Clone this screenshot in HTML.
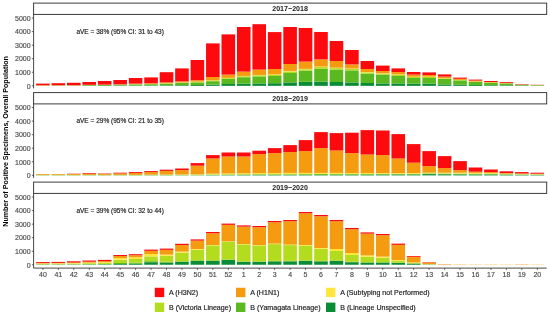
<!DOCTYPE html>
<html><head><meta charset="utf-8"><title>Positive specimens by season</title>
<style>html,body{margin:0;padding:0;background:#fff}svg{display:block}text{font-family:"Liberation Sans",Arial,sans-serif}.t{stroke:#333;stroke-width:.18px}.a{stroke:#555;stroke-width:.15px}</style></head><body>
<svg width="550" height="315" viewBox="0 0 550 315">
<rect width="550" height="315" fill="#fff"/>
<g shape-rendering="auto">
<rect x="36.1" y="85.55" width="13.6" height="0.3" fill="#5AB820"/>
<rect x="36.1" y="85.52" width="13.6" height="0.03" fill="#B4DC1E"/>
<rect x="36.1" y="85.51" width="13.6" height="0.01" fill="#FFE63C"/>
<rect x="36.1" y="85.25" width="13.6" height="0.26" fill="#F49B10"/>
<rect x="36.1" y="83.6" width="13.6" height="1.65" fill="#FD0A0E"/>
<rect x="51.55" y="85.55" width="13.6" height="0.3" fill="#5AB820"/>
<rect x="51.55" y="85.52" width="13.6" height="0.03" fill="#B4DC1E"/>
<rect x="51.55" y="85.51" width="13.6" height="0.01" fill="#FFE63C"/>
<rect x="51.55" y="85.2" width="13.6" height="0.31" fill="#F49B10"/>
<rect x="51.55" y="83.2" width="13.6" height="2" fill="#FD0A0E"/>
<rect x="67" y="85.52" width="13.6" height="0.33" fill="#5AB820"/>
<rect x="67" y="85.48" width="13.6" height="0.04" fill="#B4DC1E"/>
<rect x="67" y="85.46" width="13.6" height="0.01" fill="#FFE63C"/>
<rect x="67" y="85.15" width="13.6" height="0.31" fill="#F49B10"/>
<rect x="67" y="82.8" width="13.6" height="2.35" fill="#FD0A0E"/>
<rect x="82.45" y="85.1" width="13.6" height="0.75" fill="#5AB820"/>
<rect x="82.45" y="85.04" width="13.6" height="0.06" fill="#B4DC1E"/>
<rect x="82.45" y="85.02" width="13.6" height="0.02" fill="#FFE63C"/>
<rect x="82.45" y="84.8" width="13.6" height="0.22" fill="#F49B10"/>
<rect x="82.45" y="82" width="13.6" height="2.8" fill="#FD0A0E"/>
<rect x="97.9" y="85" width="13.6" height="0.85" fill="#5AB820"/>
<rect x="97.9" y="84.91" width="13.6" height="0.09" fill="#B4DC1E"/>
<rect x="97.9" y="84.88" width="13.6" height="0.03" fill="#FFE63C"/>
<rect x="97.9" y="84.6" width="13.6" height="0.28" fill="#F49B10"/>
<rect x="97.9" y="81" width="13.6" height="3.6" fill="#FD0A0E"/>
<rect x="113.35" y="85.5" width="13.6" height="0.35" fill="#0A8C36"/>
<rect x="113.35" y="84.8" width="13.6" height="0.7" fill="#5AB820"/>
<rect x="113.35" y="84.68" width="13.6" height="0.12" fill="#B4DC1E"/>
<rect x="113.35" y="84.64" width="13.6" height="0.04" fill="#FFE63C"/>
<rect x="113.35" y="84.3" width="13.6" height="0.34" fill="#F49B10"/>
<rect x="113.35" y="80" width="13.6" height="4.3" fill="#FD0A0E"/>
<rect x="128.8" y="85.4" width="13.6" height="0.45" fill="#0A8C36"/>
<rect x="128.8" y="84.4" width="13.6" height="1" fill="#5AB820"/>
<rect x="128.8" y="84.15" width="13.6" height="0.25" fill="#B4DC1E"/>
<rect x="128.8" y="84.08" width="13.6" height="0.07" fill="#FFE63C"/>
<rect x="128.8" y="83.6" width="13.6" height="0.48" fill="#F49B10"/>
<rect x="128.8" y="78" width="13.6" height="5.6" fill="#FD0A0E"/>
<rect x="144.25" y="85.4" width="13.6" height="0.45" fill="#0A8C36"/>
<rect x="144.25" y="84.2" width="13.6" height="1.2" fill="#5AB820"/>
<rect x="144.25" y="83.95" width="13.6" height="0.25" fill="#B4DC1E"/>
<rect x="144.25" y="83.88" width="13.6" height="0.07" fill="#FFE63C"/>
<rect x="144.25" y="83.3" width="13.6" height="0.58" fill="#F49B10"/>
<rect x="144.25" y="77.4" width="13.6" height="5.9" fill="#FD0A0E"/>
<rect x="159.7" y="85.3" width="13.6" height="0.55" fill="#0A8C36"/>
<rect x="159.7" y="83.6" width="13.6" height="1.7" fill="#5AB820"/>
<rect x="159.7" y="83.23" width="13.6" height="0.37" fill="#B4DC1E"/>
<rect x="159.7" y="83.12" width="13.6" height="0.11" fill="#FFE63C"/>
<rect x="159.7" y="82.4" width="13.6" height="0.72" fill="#F49B10"/>
<rect x="159.7" y="72.2" width="13.6" height="10.2" fill="#FD0A0E"/>
<rect x="175.15" y="85.2" width="13.6" height="0.65" fill="#0A8C36"/>
<rect x="175.15" y="83" width="13.6" height="2.2" fill="#5AB820"/>
<rect x="175.15" y="82.57" width="13.6" height="0.43" fill="#B4DC1E"/>
<rect x="175.15" y="82.44" width="13.6" height="0.13" fill="#FFE63C"/>
<rect x="175.15" y="81.4" width="13.6" height="1.04" fill="#F49B10"/>
<rect x="175.15" y="68.4" width="13.6" height="13" fill="#FD0A0E"/>
<rect x="190.6" y="85" width="13.6" height="0.85" fill="#0A8C36"/>
<rect x="190.6" y="82.4" width="13.6" height="2.6" fill="#5AB820"/>
<rect x="190.6" y="81.84" width="13.6" height="0.56" fill="#B4DC1E"/>
<rect x="190.6" y="81.68" width="13.6" height="0.16" fill="#FFE63C"/>
<rect x="190.6" y="80.2" width="13.6" height="1.48" fill="#F49B10"/>
<rect x="190.6" y="60" width="13.6" height="20.2" fill="#FD0A0E"/>
<rect x="206.05" y="84.6" width="13.6" height="1.25" fill="#0A8C36"/>
<rect x="206.05" y="81.2" width="13.6" height="3.4" fill="#5AB820"/>
<rect x="206.05" y="80.46" width="13.6" height="0.74" fill="#B4DC1E"/>
<rect x="206.05" y="80.24" width="13.6" height="0.22" fill="#FFE63C"/>
<rect x="206.05" y="77" width="13.6" height="3.24" fill="#F49B10"/>
<rect x="206.05" y="43.4" width="13.6" height="33.6" fill="#FD0A0E"/>
<rect x="221.5" y="84" width="13.6" height="1.85" fill="#0A8C36"/>
<rect x="221.5" y="79" width="13.6" height="5" fill="#5AB820"/>
<rect x="221.5" y="78.13" width="13.6" height="0.87" fill="#B4DC1E"/>
<rect x="221.5" y="77.88" width="13.6" height="0.25" fill="#FFE63C"/>
<rect x="221.5" y="74.6" width="13.6" height="3.28" fill="#F49B10"/>
<rect x="221.5" y="34.4" width="13.6" height="40.2" fill="#FD0A0E"/>
<rect x="236.95" y="83.6" width="13.6" height="2.25" fill="#0A8C36"/>
<rect x="236.95" y="77.2" width="13.6" height="6.4" fill="#5AB820"/>
<rect x="236.95" y="76.21" width="13.6" height="0.99" fill="#B4DC1E"/>
<rect x="236.95" y="75.92" width="13.6" height="0.29" fill="#FFE63C"/>
<rect x="236.95" y="71.6" width="13.6" height="4.32" fill="#F49B10"/>
<rect x="236.95" y="27" width="13.6" height="44.6" fill="#FD0A0E"/>
<rect x="252.4" y="83.4" width="13.6" height="2.45" fill="#0A8C36"/>
<rect x="252.4" y="76.4" width="13.6" height="7" fill="#5AB820"/>
<rect x="252.4" y="75.28" width="13.6" height="1.12" fill="#B4DC1E"/>
<rect x="252.4" y="74.96" width="13.6" height="0.32" fill="#FFE63C"/>
<rect x="252.4" y="69.6" width="13.6" height="5.36" fill="#F49B10"/>
<rect x="252.4" y="24.2" width="13.6" height="45.4" fill="#FD0A0E"/>
<rect x="267.85" y="83.2" width="13.6" height="2.65" fill="#0A8C36"/>
<rect x="267.85" y="76" width="13.6" height="7.2" fill="#5AB820"/>
<rect x="267.85" y="74.76" width="13.6" height="1.24" fill="#B4DC1E"/>
<rect x="267.85" y="74.4" width="13.6" height="0.36" fill="#FFE63C"/>
<rect x="267.85" y="69" width="13.6" height="5.4" fill="#F49B10"/>
<rect x="267.85" y="32.1" width="13.6" height="36.9" fill="#FD0A0E"/>
<rect x="283.3" y="82.4" width="13.6" height="3.45" fill="#0A8C36"/>
<rect x="283.3" y="73" width="13.6" height="9.4" fill="#5AB820"/>
<rect x="283.3" y="71.39" width="13.6" height="1.61" fill="#B4DC1E"/>
<rect x="283.3" y="70.92" width="13.6" height="0.47" fill="#FFE63C"/>
<rect x="283.3" y="64" width="13.6" height="6.92" fill="#F49B10"/>
<rect x="283.3" y="27" width="13.6" height="37" fill="#FD0A0E"/>
<rect x="298.75" y="81.8" width="13.6" height="4.05" fill="#0A8C36"/>
<rect x="298.75" y="70.6" width="13.6" height="11.2" fill="#5AB820"/>
<rect x="298.75" y="69.24" width="13.6" height="1.36" fill="#B4DC1E"/>
<rect x="298.75" y="68.84" width="13.6" height="0.4" fill="#FFE63C"/>
<rect x="298.75" y="61.6" width="13.6" height="7.24" fill="#F49B10"/>
<rect x="298.75" y="28" width="13.6" height="33.6" fill="#FD0A0E"/>
<rect x="314.2" y="81.6" width="13.6" height="4.25" fill="#0A8C36"/>
<rect x="314.2" y="68.8" width="13.6" height="12.8" fill="#5AB820"/>
<rect x="314.2" y="67.06" width="13.6" height="1.74" fill="#B4DC1E"/>
<rect x="314.2" y="66.56" width="13.6" height="0.5" fill="#FFE63C"/>
<rect x="314.2" y="59.4" width="13.6" height="7.16" fill="#F49B10"/>
<rect x="314.2" y="32" width="13.6" height="27.4" fill="#FD0A0E"/>
<rect x="329.65" y="82" width="13.6" height="3.85" fill="#0A8C36"/>
<rect x="329.65" y="69.6" width="13.6" height="12.4" fill="#5AB820"/>
<rect x="329.65" y="68.11" width="13.6" height="1.49" fill="#B4DC1E"/>
<rect x="329.65" y="67.68" width="13.6" height="0.43" fill="#FFE63C"/>
<rect x="329.65" y="61" width="13.6" height="6.68" fill="#F49B10"/>
<rect x="329.65" y="41" width="13.6" height="20" fill="#FD0A0E"/>
<rect x="345.1" y="82.4" width="13.6" height="3.45" fill="#0A8C36"/>
<rect x="345.1" y="70.4" width="13.6" height="12" fill="#5AB820"/>
<rect x="345.1" y="68.91" width="13.6" height="1.49" fill="#B4DC1E"/>
<rect x="345.1" y="68.48" width="13.6" height="0.43" fill="#FFE63C"/>
<rect x="345.1" y="64.4" width="13.6" height="4.08" fill="#F49B10"/>
<rect x="345.1" y="50" width="13.6" height="14.4" fill="#FD0A0E"/>
<rect x="360.55" y="83" width="13.6" height="2.85" fill="#0A8C36"/>
<rect x="360.55" y="73.6" width="13.6" height="9.4" fill="#5AB820"/>
<rect x="360.55" y="72.36" width="13.6" height="1.24" fill="#B4DC1E"/>
<rect x="360.55" y="72" width="13.6" height="0.36" fill="#FFE63C"/>
<rect x="360.55" y="69" width="13.6" height="3" fill="#F49B10"/>
<rect x="360.55" y="61" width="13.6" height="8" fill="#FD0A0E"/>
<rect x="376" y="83.4" width="13.6" height="2.45" fill="#0A8C36"/>
<rect x="376" y="74.6" width="13.6" height="8.8" fill="#5AB820"/>
<rect x="376" y="73.61" width="13.6" height="0.99" fill="#B4DC1E"/>
<rect x="376" y="73.32" width="13.6" height="0.29" fill="#FFE63C"/>
<rect x="376" y="71" width="13.6" height="2.32" fill="#F49B10"/>
<rect x="376" y="65.6" width="13.6" height="5.4" fill="#FD0A0E"/>
<rect x="391.45" y="83.4" width="13.6" height="2.45" fill="#0A8C36"/>
<rect x="391.45" y="76" width="13.6" height="7.4" fill="#5AB820"/>
<rect x="391.45" y="74.76" width="13.6" height="1.24" fill="#B4DC1E"/>
<rect x="391.45" y="74.4" width="13.6" height="0.36" fill="#FFE63C"/>
<rect x="391.45" y="72" width="13.6" height="2.4" fill="#F49B10"/>
<rect x="391.45" y="68.4" width="13.6" height="3.6" fill="#FD0A0E"/>
<rect x="406.9" y="83.6" width="13.6" height="2.25" fill="#0A8C36"/>
<rect x="406.9" y="78" width="13.6" height="5.6" fill="#5AB820"/>
<rect x="406.9" y="77.01" width="13.6" height="0.99" fill="#B4DC1E"/>
<rect x="406.9" y="76.72" width="13.6" height="0.29" fill="#FFE63C"/>
<rect x="406.9" y="74.6" width="13.6" height="2.12" fill="#F49B10"/>
<rect x="406.9" y="72" width="13.6" height="2.6" fill="#FD0A0E"/>
<rect x="422.35" y="83.6" width="13.6" height="2.25" fill="#0A8C36"/>
<rect x="422.35" y="78" width="13.6" height="5.6" fill="#5AB820"/>
<rect x="422.35" y="77.01" width="13.6" height="0.99" fill="#B4DC1E"/>
<rect x="422.35" y="76.72" width="13.6" height="0.29" fill="#FFE63C"/>
<rect x="422.35" y="75" width="13.6" height="1.72" fill="#F49B10"/>
<rect x="422.35" y="72.4" width="13.6" height="2.6" fill="#FD0A0E"/>
<rect x="437.8" y="84.4" width="13.6" height="1.45" fill="#0A8C36"/>
<rect x="437.8" y="79" width="13.6" height="5.4" fill="#5AB820"/>
<rect x="437.8" y="78.38" width="13.6" height="0.62" fill="#B4DC1E"/>
<rect x="437.8" y="78.2" width="13.6" height="0.18" fill="#FFE63C"/>
<rect x="437.8" y="76.6" width="13.6" height="1.6" fill="#F49B10"/>
<rect x="437.8" y="74.4" width="13.6" height="2.2" fill="#FD0A0E"/>
<rect x="453.25" y="84.8" width="13.6" height="1.05" fill="#0A8C36"/>
<rect x="453.25" y="80.4" width="13.6" height="4.4" fill="#5AB820"/>
<rect x="453.25" y="80.03" width="13.6" height="0.37" fill="#B4DC1E"/>
<rect x="453.25" y="79.92" width="13.6" height="0.11" fill="#FFE63C"/>
<rect x="453.25" y="78.8" width="13.6" height="1.12" fill="#F49B10"/>
<rect x="453.25" y="77.6" width="13.6" height="1.2" fill="#FD0A0E"/>
<rect x="468.7" y="85" width="13.6" height="0.85" fill="#0A8C36"/>
<rect x="468.7" y="81.8" width="13.6" height="3.2" fill="#5AB820"/>
<rect x="468.7" y="81.55" width="13.6" height="0.25" fill="#B4DC1E"/>
<rect x="468.7" y="81.48" width="13.6" height="0.07" fill="#FFE63C"/>
<rect x="468.7" y="80.6" width="13.6" height="0.88" fill="#F49B10"/>
<rect x="468.7" y="79.6" width="13.6" height="1" fill="#FD0A0E"/>
<rect x="484.15" y="85.2" width="13.6" height="0.65" fill="#0A8C36"/>
<rect x="484.15" y="82.8" width="13.6" height="2.4" fill="#5AB820"/>
<rect x="484.15" y="82.55" width="13.6" height="0.25" fill="#B4DC1E"/>
<rect x="484.15" y="82.48" width="13.6" height="0.07" fill="#FFE63C"/>
<rect x="484.15" y="82" width="13.6" height="0.48" fill="#F49B10"/>
<rect x="484.15" y="81" width="13.6" height="1" fill="#FD0A0E"/>
<rect x="499.6" y="85.3" width="13.6" height="0.55" fill="#0A8C36"/>
<rect x="499.6" y="83.5" width="13.6" height="1.8" fill="#5AB820"/>
<rect x="499.6" y="83.31" width="13.6" height="0.19" fill="#B4DC1E"/>
<rect x="499.6" y="83.26" width="13.6" height="0.05" fill="#FFE63C"/>
<rect x="499.6" y="82.8" width="13.6" height="0.46" fill="#F49B10"/>
<rect x="499.6" y="82" width="13.6" height="0.8" fill="#FD0A0E"/>
<rect x="515.05" y="85.5" width="13.6" height="0.35" fill="#0A8C36"/>
<rect x="515.05" y="84.8" width="13.6" height="0.7" fill="#5AB820"/>
<rect x="515.05" y="84.68" width="13.6" height="0.12" fill="#B4DC1E"/>
<rect x="515.05" y="84.64" width="13.6" height="0.04" fill="#FFE63C"/>
<rect x="515.05" y="84.4" width="13.6" height="0.24" fill="#F49B10"/>
<rect x="515.05" y="84" width="13.6" height="0.4" fill="#FD0A0E"/>
<rect x="530.5" y="85.2" width="13.6" height="0.65" fill="#5AB820"/>
<rect x="530.5" y="85.14" width="13.6" height="0.06" fill="#B4DC1E"/>
<rect x="530.5" y="85.12" width="13.6" height="0.02" fill="#FFE63C"/>
<rect x="530.5" y="85" width="13.6" height="0.12" fill="#F49B10"/>
<rect x="530.5" y="84.8" width="13.6" height="0.2" fill="#FD0A0E"/>
</g>
<rect x="33.6" y="3.1" width="513.1" height="11.3" fill="#fff" stroke="#333" stroke-width="0.95"/>
<text x="290.1" y="11.1" font-size="7.1" font-weight="bold" fill="#1a1a1a" text-anchor="middle">2017−2018</text>
<line x1="33.6" y1="14.4" x2="33.6" y2="88.4" stroke="#333" stroke-width="0.9"/>
<line x1="31.9" y1="85.8" x2="33.6" y2="85.8" stroke="#333" stroke-width="0.75"/>
<text class="a" x="30.6" y="88.55" font-size="7" fill="#444" text-anchor="end">0</text>
<line x1="31.9" y1="72.25" x2="33.6" y2="72.25" stroke="#333" stroke-width="0.75"/>
<text class="a" x="30.6" y="75" font-size="7" fill="#444" text-anchor="end">1000</text>
<line x1="31.9" y1="58.7" x2="33.6" y2="58.7" stroke="#333" stroke-width="0.75"/>
<text class="a" x="30.6" y="61.45" font-size="7" fill="#444" text-anchor="end">2000</text>
<line x1="31.9" y1="45.15" x2="33.6" y2="45.15" stroke="#333" stroke-width="0.75"/>
<text class="a" x="30.6" y="47.9" font-size="7" fill="#444" text-anchor="end">3000</text>
<line x1="31.9" y1="31.6" x2="33.6" y2="31.6" stroke="#333" stroke-width="0.75"/>
<text class="a" x="30.6" y="34.35" font-size="7" fill="#444" text-anchor="end">4000</text>
<line x1="31.9" y1="18.05" x2="33.6" y2="18.05" stroke="#333" stroke-width="0.75"/>
<text class="a" x="30.6" y="20.8" font-size="7" fill="#444" text-anchor="end">5000</text>
<text class="t" x="76.4" y="33.9" font-size="6.52" fill="#111">aVE = 38% (95% CI: 31 to 43)</text>
<g shape-rendering="auto">
<rect x="36.1" y="175.07" width="13.6" height="0.33" fill="#5AB820"/>
<rect x="36.1" y="174.92" width="13.6" height="0.15" fill="#B4DC1E"/>
<rect x="36.1" y="174.15" width="13.6" height="0.77" fill="#F49B10"/>
<rect x="36.1" y="174.1" width="13.6" height="0.05" fill="#FD0A0E"/>
<rect x="51.55" y="175.07" width="13.6" height="0.33" fill="#5AB820"/>
<rect x="51.55" y="174.92" width="13.6" height="0.15" fill="#B4DC1E"/>
<rect x="51.55" y="174.15" width="13.6" height="0.77" fill="#F49B10"/>
<rect x="51.55" y="174.1" width="13.6" height="0.05" fill="#FD0A0E"/>
<rect x="67" y="175.07" width="13.6" height="0.33" fill="#5AB820"/>
<rect x="67" y="174.92" width="13.6" height="0.15" fill="#B4DC1E"/>
<rect x="67" y="174" width="13.6" height="0.92" fill="#F49B10"/>
<rect x="67" y="173.7" width="13.6" height="0.3" fill="#FD0A0E"/>
<rect x="82.45" y="175.06" width="13.6" height="0.34" fill="#5AB820"/>
<rect x="82.45" y="174.91" width="13.6" height="0.15" fill="#B4DC1E"/>
<rect x="82.45" y="173.8" width="13.6" height="1.11" fill="#F49B10"/>
<rect x="82.45" y="173.1" width="13.6" height="0.7" fill="#FD0A0E"/>
<rect x="97.9" y="175.06" width="13.6" height="0.34" fill="#5AB820"/>
<rect x="97.9" y="174.91" width="13.6" height="0.15" fill="#B4DC1E"/>
<rect x="97.9" y="173.9" width="13.6" height="1.01" fill="#F49B10"/>
<rect x="97.9" y="173.5" width="13.6" height="0.4" fill="#FD0A0E"/>
<rect x="113.35" y="175.05" width="13.6" height="0.35" fill="#5AB820"/>
<rect x="113.35" y="174.9" width="13.6" height="0.15" fill="#B4DC1E"/>
<rect x="113.35" y="173.4" width="13.6" height="1.5" fill="#F49B10"/>
<rect x="113.35" y="172.7" width="13.6" height="0.7" fill="#FD0A0E"/>
<rect x="128.8" y="175.05" width="13.6" height="0.35" fill="#5AB820"/>
<rect x="128.8" y="174.9" width="13.6" height="0.15" fill="#B4DC1E"/>
<rect x="128.8" y="173" width="13.6" height="1.9" fill="#F49B10"/>
<rect x="128.8" y="172.1" width="13.6" height="0.9" fill="#FD0A0E"/>
<rect x="144.25" y="175" width="13.6" height="0.4" fill="#5AB820"/>
<rect x="144.25" y="174.85" width="13.6" height="0.15" fill="#B4DC1E"/>
<rect x="144.25" y="174.7" width="13.6" height="0.15" fill="#FFE63C"/>
<rect x="144.25" y="172.1" width="13.6" height="2.6" fill="#F49B10"/>
<rect x="144.25" y="171.1" width="13.6" height="1" fill="#FD0A0E"/>
<rect x="159.7" y="174.95" width="13.6" height="0.45" fill="#5AB820"/>
<rect x="159.7" y="174.8" width="13.6" height="0.15" fill="#B4DC1E"/>
<rect x="159.7" y="174.6" width="13.6" height="0.2" fill="#FFE63C"/>
<rect x="159.7" y="170.9" width="13.6" height="3.7" fill="#F49B10"/>
<rect x="159.7" y="169.7" width="13.6" height="1.2" fill="#FD0A0E"/>
<rect x="175.15" y="174.9" width="13.6" height="0.5" fill="#5AB820"/>
<rect x="175.15" y="174.75" width="13.6" height="0.15" fill="#B4DC1E"/>
<rect x="175.15" y="174.5" width="13.6" height="0.25" fill="#FFE63C"/>
<rect x="175.15" y="170.1" width="13.6" height="4.4" fill="#F49B10"/>
<rect x="175.15" y="168.5" width="13.6" height="1.6" fill="#FD0A0E"/>
<rect x="190.6" y="174.8" width="13.6" height="0.6" fill="#5AB820"/>
<rect x="190.6" y="174.65" width="13.6" height="0.15" fill="#B4DC1E"/>
<rect x="190.6" y="174.3" width="13.6" height="0.35" fill="#FFE63C"/>
<rect x="190.6" y="165.7" width="13.6" height="8.6" fill="#F49B10"/>
<rect x="190.6" y="163.1" width="13.6" height="2.6" fill="#FD0A0E"/>
<rect x="206.05" y="175.05" width="13.6" height="0.35" fill="#0A8C36"/>
<rect x="206.05" y="174.6" width="13.6" height="0.45" fill="#5AB820"/>
<rect x="206.05" y="174.45" width="13.6" height="0.15" fill="#B4DC1E"/>
<rect x="206.05" y="173.7" width="13.6" height="0.75" fill="#FFE63C"/>
<rect x="206.05" y="158.5" width="13.6" height="15.2" fill="#F49B10"/>
<rect x="206.05" y="155.1" width="13.6" height="3.4" fill="#FD0A0E"/>
<rect x="221.5" y="175.05" width="13.6" height="0.35" fill="#0A8C36"/>
<rect x="221.5" y="174.5" width="13.6" height="0.55" fill="#5AB820"/>
<rect x="221.5" y="174.35" width="13.6" height="0.15" fill="#B4DC1E"/>
<rect x="221.5" y="173.5" width="13.6" height="0.85" fill="#FFE63C"/>
<rect x="221.5" y="156.5" width="13.6" height="17" fill="#F49B10"/>
<rect x="221.5" y="152.5" width="13.6" height="4" fill="#FD0A0E"/>
<rect x="236.95" y="175" width="13.6" height="0.4" fill="#0A8C36"/>
<rect x="236.95" y="174.4" width="13.6" height="0.6" fill="#5AB820"/>
<rect x="236.95" y="174.25" width="13.6" height="0.15" fill="#B4DC1E"/>
<rect x="236.95" y="173.3" width="13.6" height="0.95" fill="#FFE63C"/>
<rect x="236.95" y="156.5" width="13.6" height="16.8" fill="#F49B10"/>
<rect x="236.95" y="152.5" width="13.6" height="4" fill="#FD0A0E"/>
<rect x="252.4" y="175" width="13.6" height="0.4" fill="#0A8C36"/>
<rect x="252.4" y="174.3" width="13.6" height="0.7" fill="#5AB820"/>
<rect x="252.4" y="174.15" width="13.6" height="0.15" fill="#B4DC1E"/>
<rect x="252.4" y="173.1" width="13.6" height="1.05" fill="#FFE63C"/>
<rect x="252.4" y="154.1" width="13.6" height="19" fill="#F49B10"/>
<rect x="252.4" y="150.7" width="13.6" height="3.4" fill="#FD0A0E"/>
<rect x="267.85" y="175" width="13.6" height="0.4" fill="#0A8C36"/>
<rect x="267.85" y="174.3" width="13.6" height="0.7" fill="#5AB820"/>
<rect x="267.85" y="174.15" width="13.6" height="0.15" fill="#B4DC1E"/>
<rect x="267.85" y="173.1" width="13.6" height="1.05" fill="#FFE63C"/>
<rect x="267.85" y="153.1" width="13.6" height="20" fill="#F49B10"/>
<rect x="267.85" y="148.1" width="13.6" height="5" fill="#FD0A0E"/>
<rect x="283.3" y="175" width="13.6" height="0.4" fill="#0A8C36"/>
<rect x="283.3" y="174.3" width="13.6" height="0.7" fill="#5AB820"/>
<rect x="283.3" y="174.15" width="13.6" height="0.15" fill="#B4DC1E"/>
<rect x="283.3" y="172.9" width="13.6" height="1.25" fill="#FFE63C"/>
<rect x="283.3" y="152.1" width="13.6" height="20.8" fill="#F49B10"/>
<rect x="283.3" y="145.1" width="13.6" height="7" fill="#FD0A0E"/>
<rect x="298.75" y="175" width="13.6" height="0.4" fill="#0A8C36"/>
<rect x="298.75" y="174.2" width="13.6" height="0.8" fill="#5AB820"/>
<rect x="298.75" y="174.05" width="13.6" height="0.15" fill="#B4DC1E"/>
<rect x="298.75" y="172.9" width="13.6" height="1.15" fill="#FFE63C"/>
<rect x="298.75" y="151.1" width="13.6" height="21.8" fill="#F49B10"/>
<rect x="298.75" y="140.1" width="13.6" height="11" fill="#FD0A0E"/>
<rect x="314.2" y="175" width="13.6" height="0.4" fill="#0A8C36"/>
<rect x="314.2" y="174.1" width="13.6" height="0.9" fill="#5AB820"/>
<rect x="314.2" y="173.95" width="13.6" height="0.15" fill="#B4DC1E"/>
<rect x="314.2" y="172.9" width="13.6" height="1.05" fill="#FFE63C"/>
<rect x="314.2" y="148.1" width="13.6" height="24.8" fill="#F49B10"/>
<rect x="314.2" y="132.1" width="13.6" height="16" fill="#FD0A0E"/>
<rect x="329.65" y="174.9" width="13.6" height="0.5" fill="#0A8C36"/>
<rect x="329.65" y="174.1" width="13.6" height="0.8" fill="#5AB820"/>
<rect x="329.65" y="173.95" width="13.6" height="0.15" fill="#B4DC1E"/>
<rect x="329.65" y="172.9" width="13.6" height="1.05" fill="#FFE63C"/>
<rect x="329.65" y="150.5" width="13.6" height="22.4" fill="#F49B10"/>
<rect x="329.65" y="133.1" width="13.6" height="17.4" fill="#FD0A0E"/>
<rect x="345.1" y="174.9" width="13.6" height="0.5" fill="#0A8C36"/>
<rect x="345.1" y="174.1" width="13.6" height="0.8" fill="#5AB820"/>
<rect x="345.1" y="173.95" width="13.6" height="0.15" fill="#B4DC1E"/>
<rect x="345.1" y="173.1" width="13.6" height="0.85" fill="#FFE63C"/>
<rect x="345.1" y="153.1" width="13.6" height="20" fill="#F49B10"/>
<rect x="345.1" y="132.7" width="13.6" height="20.4" fill="#FD0A0E"/>
<rect x="360.55" y="174.9" width="13.6" height="0.5" fill="#0A8C36"/>
<rect x="360.55" y="174.1" width="13.6" height="0.8" fill="#5AB820"/>
<rect x="360.55" y="173.95" width="13.6" height="0.15" fill="#B4DC1E"/>
<rect x="360.55" y="173.1" width="13.6" height="0.85" fill="#FFE63C"/>
<rect x="360.55" y="154.5" width="13.6" height="18.6" fill="#F49B10"/>
<rect x="360.55" y="130.1" width="13.6" height="24.4" fill="#FD0A0E"/>
<rect x="376" y="174.65" width="13.6" height="0.75" fill="#0A8C36"/>
<rect x="376" y="174" width="13.6" height="0.65" fill="#5AB820"/>
<rect x="376" y="173.85" width="13.6" height="0.15" fill="#B4DC1E"/>
<rect x="376" y="173.1" width="13.6" height="0.75" fill="#FFE63C"/>
<rect x="376" y="155.1" width="13.6" height="18" fill="#F49B10"/>
<rect x="376" y="130.5" width="13.6" height="24.6" fill="#FD0A0E"/>
<rect x="391.45" y="174.65" width="13.6" height="0.75" fill="#0A8C36"/>
<rect x="391.45" y="174" width="13.6" height="0.65" fill="#5AB820"/>
<rect x="391.45" y="173.85" width="13.6" height="0.15" fill="#B4DC1E"/>
<rect x="391.45" y="173.1" width="13.6" height="0.75" fill="#FFE63C"/>
<rect x="391.45" y="158.5" width="13.6" height="14.6" fill="#F49B10"/>
<rect x="391.45" y="134.1" width="13.6" height="24.4" fill="#FD0A0E"/>
<rect x="406.9" y="174.55" width="13.6" height="0.85" fill="#0A8C36"/>
<rect x="406.9" y="174" width="13.6" height="0.55" fill="#5AB820"/>
<rect x="406.9" y="173.85" width="13.6" height="0.15" fill="#B4DC1E"/>
<rect x="406.9" y="173.1" width="13.6" height="0.75" fill="#FFE63C"/>
<rect x="406.9" y="162.7" width="13.6" height="10.4" fill="#F49B10"/>
<rect x="406.9" y="144.1" width="13.6" height="18.6" fill="#FD0A0E"/>
<rect x="422.35" y="174.1" width="13.6" height="1.3" fill="#0A8C36"/>
<rect x="422.35" y="173.5" width="13.6" height="0.6" fill="#5AB820"/>
<rect x="422.35" y="173.35" width="13.6" height="0.15" fill="#B4DC1E"/>
<rect x="422.35" y="172.7" width="13.6" height="0.65" fill="#FFE63C"/>
<rect x="422.35" y="166.1" width="13.6" height="6.6" fill="#F49B10"/>
<rect x="422.35" y="151.1" width="13.6" height="15" fill="#FD0A0E"/>
<rect x="437.8" y="174.3" width="13.6" height="1.1" fill="#0A8C36"/>
<rect x="437.8" y="173.6" width="13.6" height="0.7" fill="#5AB820"/>
<rect x="437.8" y="173.45" width="13.6" height="0.15" fill="#B4DC1E"/>
<rect x="437.8" y="172.7" width="13.6" height="0.75" fill="#FFE63C"/>
<rect x="437.8" y="168.1" width="13.6" height="4.6" fill="#F49B10"/>
<rect x="437.8" y="156.1" width="13.6" height="12" fill="#FD0A0E"/>
<rect x="453.25" y="174.4" width="13.6" height="1" fill="#0A8C36"/>
<rect x="453.25" y="173.7" width="13.6" height="0.7" fill="#5AB820"/>
<rect x="453.25" y="173.55" width="13.6" height="0.15" fill="#B4DC1E"/>
<rect x="453.25" y="172.7" width="13.6" height="0.85" fill="#FFE63C"/>
<rect x="453.25" y="170.1" width="13.6" height="2.6" fill="#F49B10"/>
<rect x="453.25" y="161.1" width="13.6" height="9" fill="#FD0A0E"/>
<rect x="468.7" y="174.5" width="13.6" height="0.9" fill="#0A8C36"/>
<rect x="468.7" y="173.8" width="13.6" height="0.7" fill="#5AB820"/>
<rect x="468.7" y="173.65" width="13.6" height="0.15" fill="#B4DC1E"/>
<rect x="468.7" y="172.9" width="13.6" height="0.75" fill="#FFE63C"/>
<rect x="468.7" y="171.7" width="13.6" height="1.2" fill="#F49B10"/>
<rect x="468.7" y="167.5" width="13.6" height="4.2" fill="#FD0A0E"/>
<rect x="484.15" y="174.5" width="13.6" height="0.9" fill="#0A8C36"/>
<rect x="484.15" y="173.9" width="13.6" height="0.6" fill="#5AB820"/>
<rect x="484.15" y="173.75" width="13.6" height="0.15" fill="#B4DC1E"/>
<rect x="484.15" y="173.1" width="13.6" height="0.65" fill="#FFE63C"/>
<rect x="484.15" y="172.1" width="13.6" height="1" fill="#F49B10"/>
<rect x="484.15" y="169.5" width="13.6" height="2.6" fill="#FD0A0E"/>
<rect x="499.6" y="174.7" width="13.6" height="0.7" fill="#0A8C36"/>
<rect x="499.6" y="174.3" width="13.6" height="0.4" fill="#5AB820"/>
<rect x="499.6" y="174.15" width="13.6" height="0.15" fill="#B4DC1E"/>
<rect x="499.6" y="173.7" width="13.6" height="0.45" fill="#FFE63C"/>
<rect x="499.6" y="173.1" width="13.6" height="0.6" fill="#F49B10"/>
<rect x="499.6" y="171.3" width="13.6" height="1.8" fill="#FD0A0E"/>
<rect x="515.05" y="174.8" width="13.6" height="0.6" fill="#0A8C36"/>
<rect x="515.05" y="174.5" width="13.6" height="0.3" fill="#5AB820"/>
<rect x="515.05" y="174.35" width="13.6" height="0.15" fill="#B4DC1E"/>
<rect x="515.05" y="173.9" width="13.6" height="0.45" fill="#FFE63C"/>
<rect x="515.05" y="173.5" width="13.6" height="0.4" fill="#F49B10"/>
<rect x="515.05" y="172.1" width="13.6" height="1.4" fill="#FD0A0E"/>
<rect x="530.5" y="174.8" width="13.6" height="0.6" fill="#0A8C36"/>
<rect x="530.5" y="174.6" width="13.6" height="0.2" fill="#5AB820"/>
<rect x="530.5" y="174.45" width="13.6" height="0.15" fill="#B4DC1E"/>
<rect x="530.5" y="174.1" width="13.6" height="0.35" fill="#FFE63C"/>
<rect x="530.5" y="173.7" width="13.6" height="0.4" fill="#F49B10"/>
<rect x="530.5" y="172.7" width="13.6" height="1" fill="#FD0A0E"/>
</g>
<rect x="33.6" y="92.6" width="513.1" height="11.3" fill="#fff" stroke="#333" stroke-width="0.95"/>
<text x="290.1" y="100.6" font-size="7.1" font-weight="bold" fill="#1a1a1a" text-anchor="middle">2018−2019</text>
<line x1="33.6" y1="103.9" x2="33.6" y2="177.9" stroke="#333" stroke-width="0.9"/>
<line x1="31.9" y1="175.3" x2="33.6" y2="175.3" stroke="#333" stroke-width="0.75"/>
<text class="a" x="30.6" y="178.05" font-size="7" fill="#444" text-anchor="end">0</text>
<line x1="31.9" y1="161.75" x2="33.6" y2="161.75" stroke="#333" stroke-width="0.75"/>
<text class="a" x="30.6" y="164.5" font-size="7" fill="#444" text-anchor="end">1000</text>
<line x1="31.9" y1="148.2" x2="33.6" y2="148.2" stroke="#333" stroke-width="0.75"/>
<text class="a" x="30.6" y="150.95" font-size="7" fill="#444" text-anchor="end">2000</text>
<line x1="31.9" y1="134.65" x2="33.6" y2="134.65" stroke="#333" stroke-width="0.75"/>
<text class="a" x="30.6" y="137.4" font-size="7" fill="#444" text-anchor="end">3000</text>
<line x1="31.9" y1="121.1" x2="33.6" y2="121.1" stroke="#333" stroke-width="0.75"/>
<text class="a" x="30.6" y="123.85" font-size="7" fill="#444" text-anchor="end">4000</text>
<line x1="31.9" y1="107.55" x2="33.6" y2="107.55" stroke="#333" stroke-width="0.75"/>
<text class="a" x="30.6" y="110.3" font-size="7" fill="#444" text-anchor="end">5000</text>
<text class="t" x="76.4" y="123.4" font-size="6.52" fill="#111">aVE = 29% (95% CI: 21 to 35)</text>
<g shape-rendering="auto">
<rect x="36.1" y="264.5" width="13.6" height="0.25" fill="#0A8C36"/>
<rect x="36.1" y="264.3" width="13.6" height="0.2" fill="#5AB820"/>
<rect x="36.1" y="263.8" width="13.6" height="0.5" fill="#B4DC1E"/>
<rect x="36.1" y="263.4" width="13.6" height="0.4" fill="#FFE63C"/>
<rect x="36.1" y="263.1" width="13.6" height="0.3" fill="#F49B10"/>
<rect x="36.1" y="262.1" width="13.6" height="1" fill="#FD0A0E"/>
<rect x="51.55" y="264.5" width="13.6" height="0.25" fill="#0A8C36"/>
<rect x="51.55" y="264.3" width="13.6" height="0.2" fill="#5AB820"/>
<rect x="51.55" y="263.7" width="13.6" height="0.6" fill="#B4DC1E"/>
<rect x="51.55" y="263.3" width="13.6" height="0.4" fill="#FFE63C"/>
<rect x="51.55" y="262.9" width="13.6" height="0.4" fill="#F49B10"/>
<rect x="51.55" y="261.9" width="13.6" height="1" fill="#FD0A0E"/>
<rect x="67" y="264.5" width="13.6" height="0.25" fill="#0A8C36"/>
<rect x="67" y="264.2" width="13.6" height="0.3" fill="#5AB820"/>
<rect x="67" y="263.5" width="13.6" height="0.7" fill="#B4DC1E"/>
<rect x="67" y="263" width="13.6" height="0.5" fill="#FFE63C"/>
<rect x="67" y="262.55" width="13.6" height="0.45" fill="#F49B10"/>
<rect x="67" y="261.3" width="13.6" height="1.25" fill="#FD0A0E"/>
<rect x="82.45" y="264.4" width="13.6" height="0.35" fill="#0A8C36"/>
<rect x="82.45" y="264.1" width="13.6" height="0.3" fill="#5AB820"/>
<rect x="82.45" y="263.2" width="13.6" height="0.9" fill="#B4DC1E"/>
<rect x="82.45" y="262.6" width="13.6" height="0.6" fill="#FFE63C"/>
<rect x="82.45" y="261.7" width="13.6" height="0.9" fill="#F49B10"/>
<rect x="82.45" y="260.5" width="13.6" height="1.2" fill="#FD0A0E"/>
<rect x="97.9" y="264.3" width="13.6" height="0.45" fill="#0A8C36"/>
<rect x="97.9" y="263.9" width="13.6" height="0.4" fill="#5AB820"/>
<rect x="97.9" y="262.8" width="13.6" height="1.1" fill="#B4DC1E"/>
<rect x="97.9" y="262.2" width="13.6" height="0.6" fill="#FFE63C"/>
<rect x="97.9" y="261.1" width="13.6" height="1.1" fill="#F49B10"/>
<rect x="97.9" y="259.9" width="13.6" height="1.2" fill="#FD0A0E"/>
<rect x="113.35" y="264" width="13.6" height="0.75" fill="#0A8C36"/>
<rect x="113.35" y="263" width="13.6" height="1" fill="#5AB820"/>
<rect x="113.35" y="259.7" width="13.6" height="3.3" fill="#B4DC1E"/>
<rect x="113.35" y="258.1" width="13.6" height="1.6" fill="#FFE63C"/>
<rect x="113.35" y="256" width="13.6" height="2.1" fill="#F49B10"/>
<rect x="113.35" y="255" width="13.6" height="1" fill="#FD0A0E"/>
<rect x="128.8" y="263.8" width="13.6" height="0.95" fill="#0A8C36"/>
<rect x="128.8" y="262.6" width="13.6" height="1.2" fill="#5AB820"/>
<rect x="128.8" y="259" width="13.6" height="3.6" fill="#B4DC1E"/>
<rect x="128.8" y="257.2" width="13.6" height="1.8" fill="#FFE63C"/>
<rect x="128.8" y="255.2" width="13.6" height="2" fill="#F49B10"/>
<rect x="128.8" y="254.2" width="13.6" height="1" fill="#FD0A0E"/>
<rect x="144.25" y="262.2" width="13.6" height="2.55" fill="#0A8C36"/>
<rect x="144.25" y="261.2" width="13.6" height="1" fill="#5AB820"/>
<rect x="144.25" y="256.4" width="13.6" height="4.8" fill="#B4DC1E"/>
<rect x="144.25" y="254" width="13.6" height="2.4" fill="#FFE63C"/>
<rect x="144.25" y="250.85" width="13.6" height="3.15" fill="#F49B10"/>
<rect x="144.25" y="249.6" width="13.6" height="1.25" fill="#FD0A0E"/>
<rect x="159.7" y="262.6" width="13.6" height="2.15" fill="#0A8C36"/>
<rect x="159.7" y="261.8" width="13.6" height="0.8" fill="#5AB820"/>
<rect x="159.7" y="255.8" width="13.6" height="6" fill="#B4DC1E"/>
<rect x="159.7" y="254.6" width="13.6" height="1.2" fill="#FFE63C"/>
<rect x="159.7" y="249.85" width="13.6" height="4.75" fill="#F49B10"/>
<rect x="159.7" y="248.6" width="13.6" height="1.25" fill="#FD0A0E"/>
<rect x="175.15" y="262" width="13.6" height="2.75" fill="#0A8C36"/>
<rect x="175.15" y="261.4" width="13.6" height="0.6" fill="#5AB820"/>
<rect x="175.15" y="252.6" width="13.6" height="8.8" fill="#B4DC1E"/>
<rect x="175.15" y="251.6" width="13.6" height="1" fill="#FFE63C"/>
<rect x="175.15" y="245.05" width="13.6" height="6.55" fill="#F49B10"/>
<rect x="175.15" y="243.8" width="13.6" height="1.25" fill="#FD0A0E"/>
<rect x="190.6" y="261" width="13.6" height="3.75" fill="#0A8C36"/>
<rect x="190.6" y="260.4" width="13.6" height="0.6" fill="#5AB820"/>
<rect x="190.6" y="249.6" width="13.6" height="10.8" fill="#B4DC1E"/>
<rect x="190.6" y="249" width="13.6" height="0.6" fill="#FFE63C"/>
<rect x="190.6" y="240.65" width="13.6" height="8.35" fill="#F49B10"/>
<rect x="190.6" y="239.4" width="13.6" height="1.25" fill="#FD0A0E"/>
<rect x="206.05" y="261" width="13.6" height="3.75" fill="#0A8C36"/>
<rect x="206.05" y="260.4" width="13.6" height="0.6" fill="#5AB820"/>
<rect x="206.05" y="245.4" width="13.6" height="15" fill="#B4DC1E"/>
<rect x="206.05" y="245" width="13.6" height="0.4" fill="#FFE63C"/>
<rect x="206.05" y="233.25" width="13.6" height="11.75" fill="#F49B10"/>
<rect x="206.05" y="232" width="13.6" height="1.25" fill="#FD0A0E"/>
<rect x="221.5" y="260" width="13.6" height="4.75" fill="#0A8C36"/>
<rect x="221.5" y="259.5" width="13.6" height="0.5" fill="#5AB820"/>
<rect x="221.5" y="241.8" width="13.6" height="17.7" fill="#B4DC1E"/>
<rect x="221.5" y="241.4" width="13.6" height="0.4" fill="#FFE63C"/>
<rect x="221.5" y="224.85" width="13.6" height="16.55" fill="#F49B10"/>
<rect x="221.5" y="223.6" width="13.6" height="1.25" fill="#FD0A0E"/>
<rect x="236.95" y="262" width="13.6" height="2.75" fill="#0A8C36"/>
<rect x="236.95" y="261.5" width="13.6" height="0.5" fill="#5AB820"/>
<rect x="236.95" y="244.4" width="13.6" height="17.1" fill="#B4DC1E"/>
<rect x="236.95" y="244" width="13.6" height="0.4" fill="#FFE63C"/>
<rect x="236.95" y="226.65" width="13.6" height="17.35" fill="#F49B10"/>
<rect x="236.95" y="225.4" width="13.6" height="1.25" fill="#FD0A0E"/>
<rect x="252.4" y="262" width="13.6" height="2.75" fill="#0A8C36"/>
<rect x="252.4" y="261.5" width="13.6" height="0.5" fill="#5AB820"/>
<rect x="252.4" y="245.4" width="13.6" height="16.1" fill="#B4DC1E"/>
<rect x="252.4" y="245" width="13.6" height="0.4" fill="#FFE63C"/>
<rect x="252.4" y="227.25" width="13.6" height="17.75" fill="#F49B10"/>
<rect x="252.4" y="226" width="13.6" height="1.25" fill="#FD0A0E"/>
<rect x="267.85" y="261.4" width="13.6" height="3.35" fill="#0A8C36"/>
<rect x="267.85" y="260.9" width="13.6" height="0.5" fill="#5AB820"/>
<rect x="267.85" y="244.1" width="13.6" height="16.8" fill="#B4DC1E"/>
<rect x="267.85" y="243.6" width="13.6" height="0.5" fill="#FFE63C"/>
<rect x="267.85" y="222.25" width="13.6" height="21.35" fill="#F49B10"/>
<rect x="267.85" y="221" width="13.6" height="1.25" fill="#FD0A0E"/>
<rect x="283.3" y="261.4" width="13.6" height="3.35" fill="#0A8C36"/>
<rect x="283.3" y="260.9" width="13.6" height="0.5" fill="#5AB820"/>
<rect x="283.3" y="245.1" width="13.6" height="15.8" fill="#B4DC1E"/>
<rect x="283.3" y="244.6" width="13.6" height="0.5" fill="#FFE63C"/>
<rect x="283.3" y="221.25" width="13.6" height="23.35" fill="#F49B10"/>
<rect x="283.3" y="220" width="13.6" height="1.25" fill="#FD0A0E"/>
<rect x="298.75" y="261" width="13.6" height="3.75" fill="#0A8C36"/>
<rect x="298.75" y="260.5" width="13.6" height="0.5" fill="#5AB820"/>
<rect x="298.75" y="245.5" width="13.6" height="15" fill="#B4DC1E"/>
<rect x="298.75" y="245" width="13.6" height="0.5" fill="#FFE63C"/>
<rect x="298.75" y="213.25" width="13.6" height="31.75" fill="#F49B10"/>
<rect x="298.75" y="212" width="13.6" height="1.25" fill="#FD0A0E"/>
<rect x="314.2" y="261.4" width="13.6" height="3.35" fill="#0A8C36"/>
<rect x="314.2" y="260.9" width="13.6" height="0.5" fill="#5AB820"/>
<rect x="314.2" y="248.8" width="13.6" height="12.1" fill="#B4DC1E"/>
<rect x="314.2" y="248" width="13.6" height="0.8" fill="#FFE63C"/>
<rect x="314.2" y="216.25" width="13.6" height="31.75" fill="#F49B10"/>
<rect x="314.2" y="215" width="13.6" height="1.25" fill="#FD0A0E"/>
<rect x="329.65" y="261" width="13.6" height="3.75" fill="#0A8C36"/>
<rect x="329.65" y="260.5" width="13.6" height="0.5" fill="#5AB820"/>
<rect x="329.65" y="251" width="13.6" height="9.5" fill="#B4DC1E"/>
<rect x="329.65" y="249" width="13.6" height="2" fill="#FFE63C"/>
<rect x="329.65" y="221.25" width="13.6" height="27.75" fill="#F49B10"/>
<rect x="329.65" y="220" width="13.6" height="1.25" fill="#FD0A0E"/>
<rect x="345.1" y="262.2" width="13.6" height="2.55" fill="#0A8C36"/>
<rect x="345.1" y="261.8" width="13.6" height="0.4" fill="#5AB820"/>
<rect x="345.1" y="255" width="13.6" height="6.8" fill="#B4DC1E"/>
<rect x="345.1" y="253" width="13.6" height="2" fill="#FFE63C"/>
<rect x="345.1" y="229.25" width="13.6" height="23.75" fill="#F49B10"/>
<rect x="345.1" y="228" width="13.6" height="1.25" fill="#FD0A0E"/>
<rect x="360.55" y="262.6" width="13.6" height="2.15" fill="#0A8C36"/>
<rect x="360.55" y="262.2" width="13.6" height="0.4" fill="#5AB820"/>
<rect x="360.55" y="256.6" width="13.6" height="5.6" fill="#B4DC1E"/>
<rect x="360.55" y="255.4" width="13.6" height="1.2" fill="#FFE63C"/>
<rect x="360.55" y="233.65" width="13.6" height="21.75" fill="#F49B10"/>
<rect x="360.55" y="232.4" width="13.6" height="1.25" fill="#FD0A0E"/>
<rect x="376" y="262.6" width="13.6" height="2.15" fill="#0A8C36"/>
<rect x="376" y="262.2" width="13.6" height="0.4" fill="#5AB820"/>
<rect x="376" y="257.8" width="13.6" height="4.4" fill="#B4DC1E"/>
<rect x="376" y="256.6" width="13.6" height="1.2" fill="#FFE63C"/>
<rect x="376" y="235.25" width="13.6" height="21.35" fill="#F49B10"/>
<rect x="376" y="234" width="13.6" height="1.25" fill="#FD0A0E"/>
<rect x="391.45" y="263" width="13.6" height="1.75" fill="#0A8C36"/>
<rect x="391.45" y="262.7" width="13.6" height="0.3" fill="#5AB820"/>
<rect x="391.45" y="260.8" width="13.6" height="1.9" fill="#B4DC1E"/>
<rect x="391.45" y="260" width="13.6" height="0.8" fill="#FFE63C"/>
<rect x="391.45" y="244.85" width="13.6" height="15.15" fill="#F49B10"/>
<rect x="391.45" y="243.6" width="13.6" height="1.25" fill="#FD0A0E"/>
<rect x="406.9" y="263.6" width="13.6" height="1.15" fill="#0A8C36"/>
<rect x="406.9" y="263.4" width="13.6" height="0.2" fill="#5AB820"/>
<rect x="406.9" y="263" width="13.6" height="0.4" fill="#B4DC1E"/>
<rect x="406.9" y="262.4" width="13.6" height="0.6" fill="#FFE63C"/>
<rect x="406.9" y="256.8" width="13.6" height="5.6" fill="#F49B10"/>
<rect x="406.9" y="256" width="13.6" height="0.8" fill="#FD0A0E"/>
<rect x="422.35" y="264.45" width="13.6" height="0.3" fill="#0A8C36"/>
<rect x="422.35" y="264.4" width="13.6" height="0.05" fill="#5AB820"/>
<rect x="422.35" y="264.25" width="13.6" height="0.15" fill="#B4DC1E"/>
<rect x="422.35" y="264.1" width="13.6" height="0.15" fill="#FFE63C"/>
<rect x="422.35" y="262.6" width="13.6" height="1.5" fill="#F49B10"/>
<rect x="422.35" y="262.2" width="13.6" height="0.4" fill="#FD0A0E"/>
<rect x="437.8" y="264.55" width="13.6" height="0.2" fill="#FFE63C"/>
<rect x="437.8" y="264.2" width="13.6" height="0.35" fill="#F49B10"/>
<rect x="437.8" y="264.1" width="13.6" height="0.1" fill="#FD0A0E"/>
<rect x="453.25" y="264.57" width="13.6" height="0.18" fill="#FFE63C"/>
<rect x="453.25" y="264.38" width="13.6" height="0.19" fill="#F49B10"/>
<rect x="453.25" y="264.35" width="13.6" height="0.03" fill="#FD0A0E"/>
<rect x="468.7" y="264.57" width="13.6" height="0.18" fill="#FFE63C"/>
<rect x="468.7" y="264.45" width="13.6" height="0.12" fill="#F49B10"/>
<rect x="468.7" y="264.42" width="13.6" height="0.03" fill="#FD0A0E"/>
<rect x="484.15" y="264.57" width="13.6" height="0.18" fill="#FFE63C"/>
<rect x="484.15" y="264.42" width="13.6" height="0.15" fill="#F49B10"/>
<rect x="484.15" y="264.4" width="13.6" height="0.02" fill="#FD0A0E"/>
<rect x="499.6" y="264.57" width="13.6" height="0.18" fill="#FFE63C"/>
<rect x="499.6" y="264.48" width="13.6" height="0.09" fill="#F49B10"/>
<rect x="499.6" y="264.45" width="13.6" height="0.03" fill="#FD0A0E"/>
<rect x="515.05" y="264.58" width="13.6" height="0.17" fill="#FFE63C"/>
<rect x="515.05" y="264.4" width="13.6" height="0.18" fill="#F49B10"/>
<rect x="515.05" y="264.3" width="13.6" height="0.1" fill="#FD0A0E"/>
<rect x="530.5" y="264.57" width="13.6" height="0.18" fill="#FFE63C"/>
<rect x="530.5" y="264.48" width="13.6" height="0.09" fill="#F49B10"/>
<rect x="530.5" y="264.45" width="13.6" height="0.03" fill="#FD0A0E"/>
</g>
<rect x="33.6" y="182.1" width="513.1" height="11.3" fill="#fff" stroke="#333" stroke-width="0.95"/>
<text x="290.1" y="190.1" font-size="7.1" font-weight="bold" fill="#1a1a1a" text-anchor="middle">2019−2020</text>
<line x1="33.6" y1="193.4" x2="33.6" y2="268.1" stroke="#333" stroke-width="0.9"/>
<line x1="31.9" y1="264.8" x2="33.6" y2="264.8" stroke="#333" stroke-width="0.75"/>
<text class="a" x="30.6" y="267.55" font-size="7" fill="#444" text-anchor="end">0</text>
<line x1="31.9" y1="251.25" x2="33.6" y2="251.25" stroke="#333" stroke-width="0.75"/>
<text class="a" x="30.6" y="254" font-size="7" fill="#444" text-anchor="end">1000</text>
<line x1="31.9" y1="237.7" x2="33.6" y2="237.7" stroke="#333" stroke-width="0.75"/>
<text class="a" x="30.6" y="240.45" font-size="7" fill="#444" text-anchor="end">2000</text>
<line x1="31.9" y1="224.15" x2="33.6" y2="224.15" stroke="#333" stroke-width="0.75"/>
<text class="a" x="30.6" y="226.9" font-size="7" fill="#444" text-anchor="end">3000</text>
<line x1="31.9" y1="210.6" x2="33.6" y2="210.6" stroke="#333" stroke-width="0.75"/>
<text class="a" x="30.6" y="213.35" font-size="7" fill="#444" text-anchor="end">4000</text>
<line x1="31.9" y1="197.05" x2="33.6" y2="197.05" stroke="#333" stroke-width="0.75"/>
<text class="a" x="30.6" y="199.8" font-size="7" fill="#444" text-anchor="end">5000</text>
<text class="t" x="76.4" y="212.9" font-size="6.52" fill="#111">aVE = 39% (95% CI: 32 to 44)</text>
<line x1="33.6" y1="268.1" x2="546.7" y2="268.1" stroke="#333" stroke-width="0.9"/>
<line x1="42.9" y1="268.1" x2="42.9" y2="269.9" stroke="#333" stroke-width="0.75"/>
<text class="a" x="42.9" y="276.7" font-size="7" fill="#444" text-anchor="middle">40</text>
<line x1="58.35" y1="268.1" x2="58.35" y2="269.9" stroke="#333" stroke-width="0.75"/>
<text class="a" x="58.35" y="276.7" font-size="7" fill="#444" text-anchor="middle">41</text>
<line x1="73.8" y1="268.1" x2="73.8" y2="269.9" stroke="#333" stroke-width="0.75"/>
<text class="a" x="73.8" y="276.7" font-size="7" fill="#444" text-anchor="middle">42</text>
<line x1="89.25" y1="268.1" x2="89.25" y2="269.9" stroke="#333" stroke-width="0.75"/>
<text class="a" x="89.25" y="276.7" font-size="7" fill="#444" text-anchor="middle">43</text>
<line x1="104.7" y1="268.1" x2="104.7" y2="269.9" stroke="#333" stroke-width="0.75"/>
<text class="a" x="104.7" y="276.7" font-size="7" fill="#444" text-anchor="middle">44</text>
<line x1="120.15" y1="268.1" x2="120.15" y2="269.9" stroke="#333" stroke-width="0.75"/>
<text class="a" x="120.15" y="276.7" font-size="7" fill="#444" text-anchor="middle">45</text>
<line x1="135.6" y1="268.1" x2="135.6" y2="269.9" stroke="#333" stroke-width="0.75"/>
<text class="a" x="135.6" y="276.7" font-size="7" fill="#444" text-anchor="middle">46</text>
<line x1="151.05" y1="268.1" x2="151.05" y2="269.9" stroke="#333" stroke-width="0.75"/>
<text class="a" x="151.05" y="276.7" font-size="7" fill="#444" text-anchor="middle">47</text>
<line x1="166.5" y1="268.1" x2="166.5" y2="269.9" stroke="#333" stroke-width="0.75"/>
<text class="a" x="166.5" y="276.7" font-size="7" fill="#444" text-anchor="middle">48</text>
<line x1="181.95" y1="268.1" x2="181.95" y2="269.9" stroke="#333" stroke-width="0.75"/>
<text class="a" x="181.95" y="276.7" font-size="7" fill="#444" text-anchor="middle">49</text>
<line x1="197.4" y1="268.1" x2="197.4" y2="269.9" stroke="#333" stroke-width="0.75"/>
<text class="a" x="197.4" y="276.7" font-size="7" fill="#444" text-anchor="middle">50</text>
<line x1="212.85" y1="268.1" x2="212.85" y2="269.9" stroke="#333" stroke-width="0.75"/>
<text class="a" x="212.85" y="276.7" font-size="7" fill="#444" text-anchor="middle">51</text>
<line x1="228.3" y1="268.1" x2="228.3" y2="269.9" stroke="#333" stroke-width="0.75"/>
<text class="a" x="228.3" y="276.7" font-size="7" fill="#444" text-anchor="middle">52</text>
<line x1="243.75" y1="268.1" x2="243.75" y2="269.9" stroke="#333" stroke-width="0.75"/>
<text class="a" x="243.75" y="276.7" font-size="7" fill="#444" text-anchor="middle">1</text>
<line x1="259.2" y1="268.1" x2="259.2" y2="269.9" stroke="#333" stroke-width="0.75"/>
<text class="a" x="259.2" y="276.7" font-size="7" fill="#444" text-anchor="middle">2</text>
<line x1="274.65" y1="268.1" x2="274.65" y2="269.9" stroke="#333" stroke-width="0.75"/>
<text class="a" x="274.65" y="276.7" font-size="7" fill="#444" text-anchor="middle">3</text>
<line x1="290.1" y1="268.1" x2="290.1" y2="269.9" stroke="#333" stroke-width="0.75"/>
<text class="a" x="290.1" y="276.7" font-size="7" fill="#444" text-anchor="middle">4</text>
<line x1="305.55" y1="268.1" x2="305.55" y2="269.9" stroke="#333" stroke-width="0.75"/>
<text class="a" x="305.55" y="276.7" font-size="7" fill="#444" text-anchor="middle">5</text>
<line x1="321" y1="268.1" x2="321" y2="269.9" stroke="#333" stroke-width="0.75"/>
<text class="a" x="321" y="276.7" font-size="7" fill="#444" text-anchor="middle">6</text>
<line x1="336.45" y1="268.1" x2="336.45" y2="269.9" stroke="#333" stroke-width="0.75"/>
<text class="a" x="336.45" y="276.7" font-size="7" fill="#444" text-anchor="middle">7</text>
<line x1="351.9" y1="268.1" x2="351.9" y2="269.9" stroke="#333" stroke-width="0.75"/>
<text class="a" x="351.9" y="276.7" font-size="7" fill="#444" text-anchor="middle">8</text>
<line x1="367.35" y1="268.1" x2="367.35" y2="269.9" stroke="#333" stroke-width="0.75"/>
<text class="a" x="367.35" y="276.7" font-size="7" fill="#444" text-anchor="middle">9</text>
<line x1="382.8" y1="268.1" x2="382.8" y2="269.9" stroke="#333" stroke-width="0.75"/>
<text class="a" x="382.8" y="276.7" font-size="7" fill="#444" text-anchor="middle">10</text>
<line x1="398.25" y1="268.1" x2="398.25" y2="269.9" stroke="#333" stroke-width="0.75"/>
<text class="a" x="398.25" y="276.7" font-size="7" fill="#444" text-anchor="middle">11</text>
<line x1="413.7" y1="268.1" x2="413.7" y2="269.9" stroke="#333" stroke-width="0.75"/>
<text class="a" x="413.7" y="276.7" font-size="7" fill="#444" text-anchor="middle">12</text>
<line x1="429.15" y1="268.1" x2="429.15" y2="269.9" stroke="#333" stroke-width="0.75"/>
<text class="a" x="429.15" y="276.7" font-size="7" fill="#444" text-anchor="middle">13</text>
<line x1="444.6" y1="268.1" x2="444.6" y2="269.9" stroke="#333" stroke-width="0.75"/>
<text class="a" x="444.6" y="276.7" font-size="7" fill="#444" text-anchor="middle">14</text>
<line x1="460.05" y1="268.1" x2="460.05" y2="269.9" stroke="#333" stroke-width="0.75"/>
<text class="a" x="460.05" y="276.7" font-size="7" fill="#444" text-anchor="middle">15</text>
<line x1="475.5" y1="268.1" x2="475.5" y2="269.9" stroke="#333" stroke-width="0.75"/>
<text class="a" x="475.5" y="276.7" font-size="7" fill="#444" text-anchor="middle">16</text>
<line x1="490.95" y1="268.1" x2="490.95" y2="269.9" stroke="#333" stroke-width="0.75"/>
<text class="a" x="490.95" y="276.7" font-size="7" fill="#444" text-anchor="middle">17</text>
<line x1="506.4" y1="268.1" x2="506.4" y2="269.9" stroke="#333" stroke-width="0.75"/>
<text class="a" x="506.4" y="276.7" font-size="7" fill="#444" text-anchor="middle">18</text>
<line x1="521.85" y1="268.1" x2="521.85" y2="269.9" stroke="#333" stroke-width="0.75"/>
<text class="a" x="521.85" y="276.7" font-size="7" fill="#444" text-anchor="middle">19</text>
<line x1="537.3" y1="268.1" x2="537.3" y2="269.9" stroke="#333" stroke-width="0.75"/>
<text class="a" x="537.3" y="276.7" font-size="7" fill="#444" text-anchor="middle">20</text>
<text transform="translate(7.5,141.4) rotate(-90)" font-size="7.1" font-weight="bold" fill="#000" text-anchor="middle">Number of Positive Specimens, Overall Population</text>
<rect x="154.8" y="287.75" width="9.4" height="9.4" fill="#FD0A0E"/>
<text class="t" x="169" y="294.85" font-size="7.08" fill="#111">A (H3N2)</text>
<rect x="236" y="287.75" width="9.4" height="9.4" fill="#F49B10"/>
<text class="t" x="250.2" y="294.85" font-size="7.08" fill="#111">A (H1N1)</text>
<rect x="326" y="287.75" width="9.4" height="9.4" fill="#FFE63C"/>
<text class="t" x="340.2" y="294.85" font-size="7.08" fill="#111">A (Subtyping not Performed)</text>
<rect x="154.8" y="302.6" width="9.4" height="9.4" fill="#B4DC1E"/>
<text class="t" x="169" y="309.7" font-size="7.08" fill="#111">B (Victoria Lineage)</text>
<rect x="236" y="302.6" width="9.4" height="9.4" fill="#5AB820"/>
<text class="t" x="250.2" y="309.7" font-size="7.08" fill="#111">B (Yamagata Lineage)</text>
<rect x="326" y="302.6" width="9.4" height="9.4" fill="#0A8C36"/>
<text class="t" x="340.2" y="309.7" font-size="7.08" fill="#111">B (Lineage Unspecified)</text>
</svg></body></html>
